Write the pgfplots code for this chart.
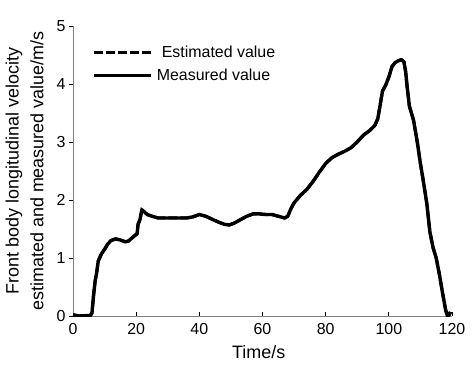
\documentclass[border=0pt]{standalone}
\usepackage{fontspec}
\setmainfont{Liberation Sans}
\usepackage{pgfplots}
\pgfplotsset{compat=1.18}
\pgfplotstableread{
x y
0 0.02
2 0.0
5.5 0.01
6 0.05
6.5 0.35
7 0.6
7.5 0.75
8 0.95
9 1.07
10 1.15
11 1.24
12 1.30
13.5 1.33
15 1.31
16.5 1.28
17.5 1.29
19 1.36
20.3 1.42
20.6 1.58
21.2 1.66
21.8 1.83
22.5 1.80
23.5 1.75
25 1.72
27 1.69
30 1.69
33 1.69
36 1.69
38 1.71
40 1.75
42 1.72
44 1.67
46 1.62
48 1.58
49.5 1.57
51 1.60
53 1.66
55 1.72
57 1.76
59 1.76
61 1.75
63 1.75
65 1.72
67 1.69
68 1.72
69 1.85
70 1.95
72 2.08
74 2.18
76 2.32
78 2.48
80 2.63
82 2.73
84 2.79
86 2.84
88 2.90
90 3.00
92 3.12
94 3.20
95.6 3.29
96.5 3.40
97.2 3.62
98 3.88
99 3.98
100 4.12
101 4.30
102 4.37
103 4.40
104 4.42
104.8 4.38
105.3 4.22
105.8 3.95
106.5 3.62
107.8 3.38
109 3.00
110 2.63
111 2.30
112 1.95
113 1.45
114 1.18
115 1.00
116 0.72
117 0.40
118 0.10
118.6 0.0
119.2 0.03
119.5 0.07
}\datatable
\begin{document}
\begin{tikzpicture}
\begin{axis}[
  scale only axis,
  width=379bp, height=290bp,
  xmin=0, xmax=120, ymin=0, ymax=5,
  axis x line*=bottom, axis y line*=left,
  axis line style={gray, line width=0.8pt},
  xtick={0,20,...,120}, ytick={0,1,...,5},
  x tick style={black, line width=1pt}, y tick style={black, line width=0.8pt},
  xtick align=inside, ytick align=outside,
  major tick length=4bp,
  /pgf/number format/assume math mode=true,
  tick label style={font=\fontsize{16}{19}\selectfont},
  xticklabel style={yshift=-4bp},
  xlabel={Time/s},
  ylabel={Front body longitudinal velocity\\estimated and measured value/m/s},
  label style={font=\fontsize{18}{25}\selectfont},
  xlabel style={at={(axis description cs:0.49,-0.148)}, anchor=base, inner sep=0pt},
  ylabel style={at={(axis description cs:-0.077,0.5)}, anchor=south, inner sep=0pt, align=center},
  legend style={draw=none, fill=none, at={(0.05,0.94)}, anchor=north west,
    font=\fontsize{16}{19}\selectfont, row sep=6bp, inner sep=0pt},
  legend cell align=left,
  legend image code/.code={\draw[#1, line width=3bp] (0,0) -- (57bp,0); \path (61bp,0);},
]
\addplot[black, line width=3bp, dash pattern=on 9bp off 3bp, forget plot] table[x=x,y=y] {\datatable};
\addplot[black, line width=3.4bp, line join=round, forget plot] table[x=x,y=y] {\datatable};
\addlegendimage{black, dash pattern=on 9bp off 3bp}
\addlegendentry{\hspace*{5bp}Estimated value}
\addlegendimage{black}
\addlegendentry{Measured value}
\end{axis}
\path (current axis.south west) ++(-73bp,-52bp) coordinate (bl);
\path (current axis.north east) ++(22bp,26bp) coordinate (tr);
\path (bl) rectangle (tr);
\end{tikzpicture}
\end{document}
